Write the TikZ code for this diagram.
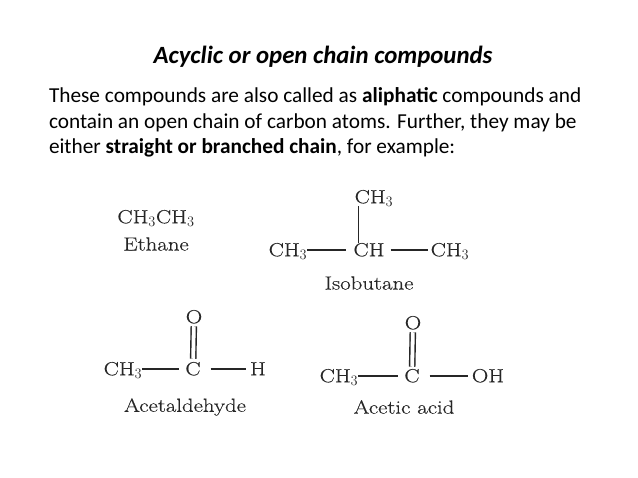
\documentclass[tikz,border=0pt]{standalone}
\usepackage{fontspec}
\setsansfont{Carlito}
\newfontfamily\chemfont[FakeStretch=1.2,FakeBold=0.4]{Latin Modern Roman}
\usepackage{tikz}
\newcommand{\mthree}{CH$_{3}$}

\begin{document}
\begin{tikzpicture}
[x=1pt,y=-1pt,node distance=40pt,inner sep=0pt,outer sep=0pt]

  \tikzstyle{atom}=[font=\chemfont\fontsize{19}{22}\selectfont,text height=12.5pt,text depth=0pt,text=black!85]
  \tikzstyle{caption}=[font=\chemfont\fontsize{19}{22}\selectfont,text=black!85]
  \tikzstyle{bond}=[draw=black!85,line width=1.5pt]
  \tikzstyle{dbond}=[draw=black!85,line width=1.4pt,double=white,double distance=3.8pt]
  \tikzstyle{heading}=[font=\sffamily\bfseries\itshape\fontsize{24.8}{29}\selectfont]
  \tikzstyle{body}=[font=\sffamily\fontsize{21.3}{25.3}\selectfont,align=left,anchor=north west]

  \useasboundingbox (0,0) rectangle (638,478);

  \node[heading] (title) at (323,57) {Acyclic or open chain compounds};
  \node[body]    (intro) at (49,88)  {These compounds are also called as \textbf{aliphatic} compounds and\\
    contain an open chain of carbon atoms. Further, they may be\\
    either \textbf{straight or branched chain}, for example:};

  % ethane
  \node[atom]    (ethane)  at (156,217) {CH$_{3}$CH$_{3}$};
  \node[caption] (ethanel) at (156,244) {Ethane};

  % isobutane
  \node[atom]    (bch)  at (369,250)                      {CH};
  \node[atom]    (bme1) [left of=bch,node distance=81pt]  {\mthree};
  \node[atom]    (bme2) [right of=bch,node distance=81pt] {\mthree};
  \node[atom]    (bme3) [above of=bch,node distance=53pt,xshift=5pt] {\mthree};
  \node[caption] (isol) [below of=bch,node distance=33pt] {Isobutane};

  \path (bme1) edge [bond,shorten >=7pt]                 (bch)
        (bch)  edge [bond,shorten <=6pt,shorten >=3pt]   (bme2);
  \draw[bond,shorten <=1pt,shorten >=3pt] ([xshift=5pt]bch.north west) -- ([xshift=5pt]bch.north west |- bme3.south);

  % acetaldehyde
  \node[atom]    (ac)  at (193,369)                     {C};
  \node[atom]    (am)  [left of=ac,node distance=70pt]  {\mthree};
  \node[atom]    (ah)  [right of=ac,node distance=65pt] {H};
  \node[atom]    (ao)  [above of=ac,node distance=52pt,xshift=1pt] {O};
  \node[caption] (acl) [below of=ac,node distance=38pt,xshift=-8pt] {Acetaldehyde};

  \path (am) edge [bond,shorten >=6pt]               (ac)
        (ac) edge [bond,shorten <=10pt,shorten >=4pt] (ah)
        (ac) edge [dbond,shorten <=4pt,shorten >=3pt] (ao);

  % acetic acid
  \node[atom]    (cc)  at (412,376)                     {C};
  \node[atom]    (cm)  [left of=cc,node distance=73pt]  {\mthree};
  \node[atom]    (coh) [right of=cc,node distance=76pt] {OH};
  \node[atom]    (co)  [above of=cc,node distance=53pt,xshift=1pt] {O};
  \node[caption] (ccl) [below of=cc,node distance=31pt,xshift=-8pt] {Acetic acid};

  \path (cm) edge [bond,shorten >=6pt]                (cc)
        (cc) edge [bond,shorten <=10pt,shorten >=4pt] (coh)
        (cc) edge [dbond,shorten <=3pt,shorten >=3pt] (co);
\end{tikzpicture}
\end{document}
